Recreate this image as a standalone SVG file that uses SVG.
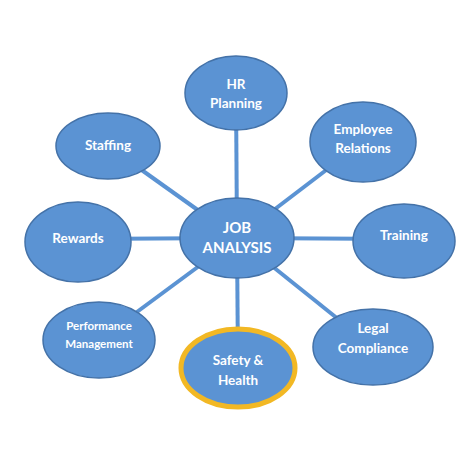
<svg xmlns="http://www.w3.org/2000/svg" width="474" height="474" viewBox="0 0 474 474">
<style>
.n{fill:#5b93d3;stroke:#4472a8;stroke-width:1.5}
.t{fill:#fff;font-family:Lato,"Open Sans",sans-serif;font-weight:bold;font-size:13.5px;text-anchor:middle}
.c line{stroke:#5b93d3;stroke-width:4}
</style>
<rect width="474" height="474" fill="#fff"/>
<g class="c" id="connectors">
<line x1="237" y1="238" x2="236" y2="93"/>
<line x1="237" y1="238" x2="363" y2="142"/>
<line x1="237" y1="238" x2="404" y2="239"/>
<line x1="237" y1="238" x2="373" y2="347"/>
<line x1="237" y1="238" x2="238" y2="368"/>
<line x1="237" y1="238" x2="99" y2="340"/>
<line x1="237" y1="238" x2="78" y2="239"/>
<line x1="237" y1="238" x2="108" y2="146"/>
</g>
<g id="hr"><ellipse class="n" cx="236" cy="93" rx="51" ry="37"/><text class="t" x="236" y="89">HR</text><text class="t" x="236" y="108">Planning</text></g>
<g id="employee"><ellipse class="n" cx="363" cy="142" rx="53" ry="40"/><text class="t" x="363" y="134">Employee</text><text class="t" x="363" y="153">Relations</text></g>
<g id="training"><ellipse class="n" cx="404" cy="241" rx="51" ry="37"/><text class="t" x="404" y="240">Training</text></g>
<g id="legal"><ellipse class="n" cx="373" cy="347" rx="60" ry="38"/><text class="t" x="373" y="333">Legal</text><text class="t" x="373" y="353">Compliance</text></g>
<g id="safety"><ellipse cx="238" cy="368" rx="57" ry="39" fill="#5b93d3" stroke="#f2b824" stroke-width="5"/><text class="t" x="238" y="365">Safety &amp;</text><text class="t" x="238" y="385">Health</text></g>
<g id="performance"><ellipse class="n" cx="99" cy="340" rx="56" ry="38"/><text class="t" x="99" y="330" style="font-size:11.5px">Performance</text><text class="t" x="99" y="348" style="font-size:11.5px">Management</text></g>
<g id="rewards"><ellipse class="n" cx="78" cy="242" rx="53" ry="40"/><text class="t" x="78" y="243">Rewards</text></g>
<g id="staffing"><ellipse class="n" cx="108" cy="146" rx="52" ry="33"/><text class="t" x="108" y="150">Staffing</text></g>
<g id="job"><ellipse class="n" cx="237" cy="238" rx="57" ry="40"/><text class="t" x="237" y="233" style="font-size:15px">JOB</text><text class="t" x="237" y="253" style="font-size:15px">ANALYSIS</text></g>
</svg>
